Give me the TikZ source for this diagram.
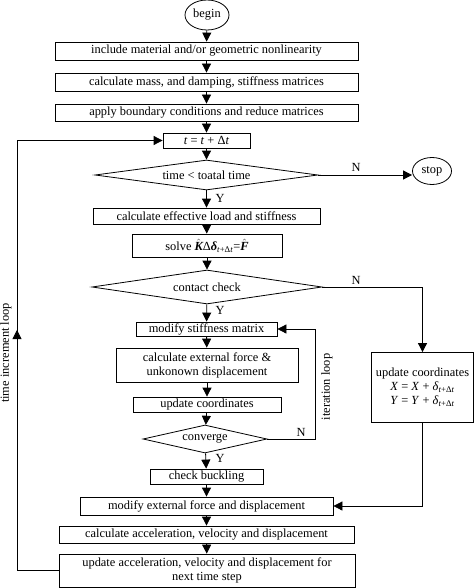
\documentclass[tikz,border=0pt]{standalone}
\usepackage{fontspec}
\setmainfont{Liberation Serif}
\usetikzlibrary{shapes.geometric,arrows.meta}
\begin{document}
\begin{tikzpicture}[x=1pt,y=-1pt,
  font=\fontsize{12.4}{14}\selectfont,
  every node/.style={inner sep=0pt},
  box/.style={draw,line width=0.8pt,rectangle,align=center},
  dia/.style={draw,line width=0.8pt,diamond,inner sep=0pt},
  arr/.style={line width=0.8pt,-{Triangle[length=9pt,width=9pt]}},
  ln/.style={line width=0.8pt}]
\useasboundingbox (0,0) rectangle (474,588);
\node[draw,line width=0.8pt,ellipse,minimum width=44pt,minimum height=30pt] (begin) at (207,15) {begin};
\node[box,minimum width=303pt,minimum height=18pt] (b1) at (206.5,51) {include material and/or geometric nonlinearity};
\node[box,minimum width=303pt,minimum height=18pt] (b2) at (206.5,82) {calculate mass, and damping, stiffness matrices};
\node[box,minimum width=303pt,minimum height=17pt] (b3) at (206.5,112.5) {apply boundary conditions and reduce matrices};
\node[box,minimum width=87pt,minimum height=15pt] (bt) at (206.5,140.5) {\textit{t} = \textit{t} + Δ\textit{t}};
\node[dia,minimum width=223pt,minimum height=30pt,shape aspect=7] (d1) at (206.5,175) {time < toatal time};
\node[draw,line width=0.8pt,ellipse,minimum width=39pt,minimum height=27pt] (stop) at (432,171) {stop};
\node[box,minimum width=227pt,minimum height=16pt] (eff) at (206.5,216) {calculate effective load and stiffness};
\node[box,minimum width=150pt,minimum height=23pt] (solve) at (207,245.5) {solve $\hat{\mbox{\bfseries\itshape K}}$Δ\textbf{\textit{δ}}\textsubscript{\textit{t}+Δ\textit{t}}=$\hat{\mbox{\bfseries\itshape F}}$};
\node[dia,minimum width=230pt,minimum height=34pt,shape aspect=7] (d2) at (207,287) {contact check};
\node[box,minimum width=141pt,minimum height=14pt] (ms) at (206.5,329) {modify stiffness matrix};
\node[box,minimum width=182pt,minimum height=34pt] (cef) at (207,365) {calculate external force \&\\unkonown displacement};
\node[box,minimum width=148pt,minimum height=15pt] (uc) at (207,404.5) {update coordinates};
\node[dia,minimum width=124pt,minimum height=28pt,shape aspect=4.4] (d3) at (205,439) {converge};
\node[box,minimum width=113pt,minimum height=15pt] (cb) at (206.5,476.5) {check buckling};
\node[box,minimum width=253pt,minimum height=18pt] (mef) at (206.5,506) {modify external force and displacement};
\node[box,minimum width=295pt,minimum height=17pt] (ca) at (206.5,534.5) {calculate acceleration, velocity and displacement};
\node[box,minimum width=296pt,minimum height=33pt] (ua) at (207,570.5) {update acceleration, velocity and displacement for\\next time step};
\node[box,minimum width=102pt,minimum height=70pt] (ucr) at (422.5,387.5) {update coordinates\\\textit{X} = \textit{X} + \textit{δ}\textsubscript{\textit{t}+Δ\textit{t}}\\\textit{Y} = \textit{Y} + \textit{δ}\textsubscript{\textit{t}+Δ\textit{t}}};
% labels
\node (n1) at (356,167) {N};
\node (n2) at (356,280) {N};
\node (n3) at (301,432) {N};
\node (y1) at (220,198) {Y};
\node (y2) at (220,310) {Y};
\node (y3) at (220,458) {Y};
\node[rotate=90] (til) at (6,353) {time increment loop};
\node[rotate=90] (itl) at (327,387) {iteration loop};
% coordinates
\coordinate (lx) at (17,0);
\coordinate (ix) at (315,0);
% connectors
\draw[arr] (begin) -- (b1);
\draw[arr] (b1) -- (b2);
\draw[arr] (b2) -- (b3);
\draw[arr] (b3) -- (bt);
\draw[arr] (bt) -- (d1);
\draw[arr] (d1.east) -- (stop.west |- d1.east);
\draw[arr] (d1) -- (eff);
\draw[arr] (eff) -- (solve);
\draw[arr] (solve) -- (d2);
\draw[arr] (d2) -- (ms);
\draw[arr] (ms) -- (cef);
\draw[arr] (cef) -- (uc);
\draw[arr] (uc) -- (d3);
\draw[arr] (d3) -- (cb);
\draw[arr] (cb) -- (mef);
\draw[arr] (mef) -- (ca);
\draw[arr] (ca) -- (ua);
\draw[arr] (d2.east) -| (ucr.north);
\draw[arr] (ucr.south) |- (mef.east);
\draw[arr] (d3.east) -- (d3.east -| ix) |- (ms.east);
\draw[arr] (ua.west) -- (ua.west -| lx) |- (bt.west);
\coordinate (ma) at (17,330);
\draw[arr] (ua.west -| lx) -- (ma);
\end{tikzpicture}
\end{document}
